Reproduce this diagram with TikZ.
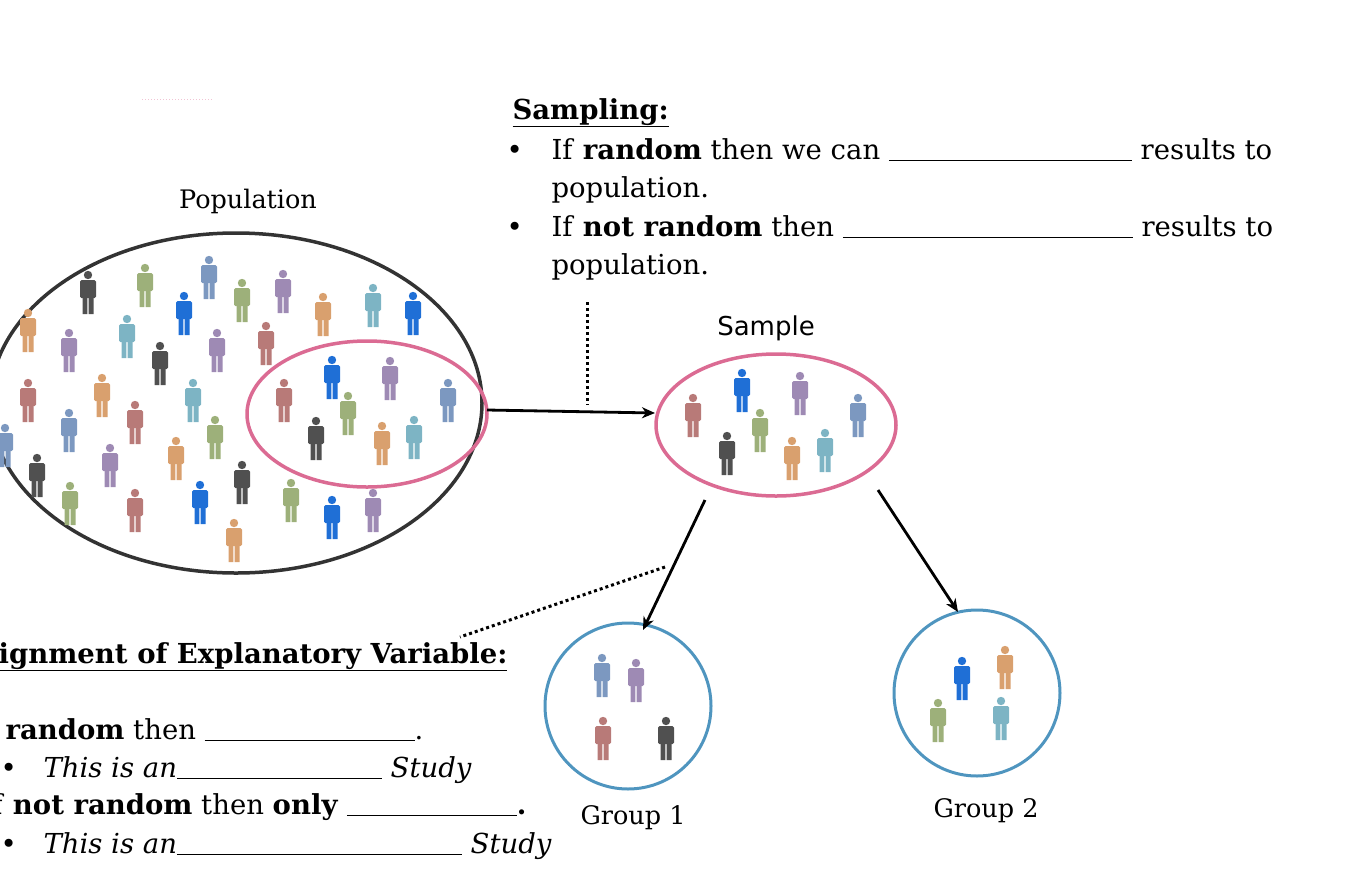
\documentclass[tikz,border=0pt]{standalone}
\usetikzlibrary{shapes.geometric,arrows.meta}
\usepackage{fontspec}
\setmainfont{DejaVu Serif}
\newfontfamily\sansf{DejaVu Sans}
\begin{document}
\begin{tikzpicture}[x=1pt,y=-1pt,
  ppl/.pic={\fill[pic actions] (0,-17) circle (4.2);
    \fill[pic actions,rounded corners=1.5] (-8,-12) rectangle (8,6);
    \fill[pic actions] (-5.5,5) rectangle (-0.7,22) (0.7,5) rectangle (5.5,22);},
  big/.style={font=\fontsize{27.5}{30}\selectfont},
  lab/.style={font=\fontsize{25.5}{28}\selectfont},
  arr/.style={line width=2.8pt,-{Stealth[length=13pt,width=11pt,inset=4pt]}},
  dots/.style={line width=3pt,dash pattern=on 3pt off 3pt}]
\useasboundingbox (0,0) rectangle (1366,892);
\clip (0,0) rectangle (1366,892);
\definecolor{cdark}{HTML}{505050}\definecolor{cgreen}{HTML}{9DB07A}
\definecolor{cbg}{HTML}{7C98C0}\definecolor{cblue}{HTML}{1F6FD6}
\definecolor{cpur}{HTML}{9E8AB4}\definecolor{cor}{HTML}{D9A06E}
\definecolor{cteal}{HTML}{7DB4C4}\definecolor{crose}{HTML}{B87A78}
\definecolor{pinkc}{HTML}{DB6B93}\definecolor{bluec}{HTML}{4F95BF}
% ellipses
\draw[line width=3.5pt,black!80] (236,403) ellipse (246 and 170);
\node[draw=pinkc,line width=3.5pt,ellipse,minimum width=240,minimum height=146,inner sep=0] (sub) at (367,414) {};
\node[draw=pinkc,line width=3.5pt,ellipse,minimum width=240,minimum height=142,inner sep=0] (samp) at (776,425) {};
\node[draw=bluec,line width=3pt,circle,minimum size=166,inner sep=0] (g1) at (628,706) {};
\node[draw=bluec,line width=3pt,circle,minimum size=166,inner sep=0] (g2) at (977,693) {};
% people
\foreach \x/\y/\c in {88/292/cdark,145/285/cgreen,209/277/cbg,184/313/cblue,242/300/cgreen,283/291/cpur,323/314/cor,373/305/cteal,413/313/cblue,28/330/cor,69/350/cpur,127/336/cteal,160/363/cdark,217/350/cpur,266/343/crose,28/400/crose,69/430/cbg,102/395/cor,135/422/crose,193/400/cteal,215/437/cgreen,5/445/cbg,37/475/cdark,110/465/cpur,176/458/cor,242/482/cdark,70/503/cgreen,135/510/crose,200/502/cblue,291/500/cgreen,332/517/cblue,373/510/cpur,234/540/cor,
284/400/crose,332/377/cblue,390/378/cpur,448/400/cbg,348/413/cgreen,316/438/cdark,382/443/cor,414/437/cteal,
693/415/crose,742/390/cblue,800/393/cpur,858/415/cbg,760/430/cgreen,727/453/cdark,792/458/cor,825/450/cteal,
602/675/cbg,636/680/cpur,603/738/crose,666/738/cdark,962/678/cblue,1005/667/cor,938/720/cgreen,1001/718/cteal}
  \pic[fill=\c] at (\x,\y) {ppl};
% connectors
\coordinate (a1) at (487,410); \coordinate (a2) at (655,413);
\draw[arr] (a1) -- (a2);
\coordinate (b1) at (705,500); \coordinate (b2) at (643,630);
\draw[arr] (b1) -- (b2);
\coordinate (c1) at (878,490); \coordinate (c2) at (958,612);
\draw[arr] (c1) -- (c2);
\coordinate (d1) at (587,302); \coordinate (d2) at (587,405);
\draw[dots] (d1) -- (d2);
\coordinate (e1) at (665,567); \coordinate (e2) at (460,637);
\draw[dots] (e1) -- (e2);
\draw[pinkc!40,line width=1pt,dash pattern=on 1pt off 2pt] (142,99) -- (212,99);
% labels
\node[lab] (pop) at (248,201) {Population};
\node[font=\sansf\fontsize{26}{28}\selectfont] (samplab) at (766,328) {Sample};
\node[lab] (gl1) at (633,818) {Group 1};
\node[lab] (gl2) at (986,811) {Group 2};
% sampling text
\node[big,anchor=base west] (s0) at (509,119) {\textbf{\underline{Sampling:}}};
\node[big,anchor=base west] (s1b) at (503,159) {•};
\node[big,anchor=base west] (s1) at (548,159) {If \textbf{random} then we can \rule[-2pt]{243pt}{1pt} results to};
\node[big,anchor=base west] (s2) at (548,197) {population.};
\node[big,anchor=base west] (s3b) at (503,236) {•};
\node[big,anchor=base west] (s3) at (548,236) {If \textbf{not random} then \rule[-2pt]{290pt}{1pt} results to};
\node[big,anchor=base west] (s4) at (548,274) {population.};
% assignment text
\node[big,anchor=base east] (t0) at (511,663) {\textbf{\underline{Assignment of Explanatory Variable:}}};
\node[big,anchor=base east] (t1) at (427,739) {If \textbf{random} then \rule[-2pt]{210pt}{1pt}.};
\node[big,anchor=base west] (t2b) at (-3,777) {•};
\node[big,anchor=base west] (t2) at (40,777) {\textit{This is an\rule[-2pt]{205pt}{1pt} Study}};
\node[big,anchor=base east] (t3) at (530,814) {If \textbf{not random} then \textbf{only} \rule[-2pt]{170pt}{1pt}\textbf{.}};
\node[big,anchor=base west] (t4b) at (-3,853) {•};
\node[big,anchor=base west] (t4) at (40,853) {\textit{This is an\rule[-2pt]{285pt}{1pt} Study}};
\end{tikzpicture}
\end{document}
